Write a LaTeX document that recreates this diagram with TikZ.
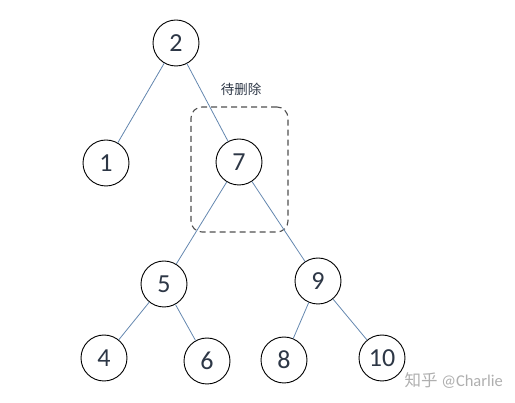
\documentclass[tikz,border=0pt]{standalone}
\usepackage{fontspec}
\setmainfont{Carlito}
\newfontfamily\cjk{Noto Sans CJK SC}
\definecolor{edgec}{RGB}{100,135,175}
\definecolor{textc}{RGB}{45,55,70}
\definecolor{boxc}{RGB}{80,80,80}
\definecolor{wmc}{RGB}{175,175,175}
\begin{document}
\begin{tikzpicture}[x=1pt,y=-1pt,
  tnode/.style={circle,draw=black,line width=0.9pt,minimum size=46pt,inner sep=0pt,font=\fontsize{26}{26}\selectfont,text=textc,fill=white},
  tedge/.style={draw=edgec,line width=0.8pt}]
\useasboundingbox (0,0) rectangle (515,403);
\node[draw=boxc,dash pattern=on 6pt off 4pt,line width=1.1pt,rounded corners=11pt,minimum width=97pt,minimum height=125pt] (box) at (239.5,169.5) {};
\node[tnode] (n2) at (176,43) {2};
\node[tnode] (n1) at (106,163) {1};
\node[tnode] (n7) at (239,162) {7};
\node[tnode] (n5) at (164,284) {5};
\node[tnode] (n9) at (318,281) {9};
\node[tnode] (n4) at (104,358) {4};
\node[tnode] (n6) at (207,361) {6};
\node[tnode] (n8) at (284,360) {8};
\node[tnode] (n10) at (382,358) {10};
\draw[tedge] (n2) -- (n1);
\draw[tedge] (n2) -- (n7);
\draw[tedge] (n7) -- (n5);
\draw[tedge] (n7) -- (n9);
\draw[tedge] (n5) -- (n4);
\draw[tedge] (n5) -- (n6);
\draw[tedge] (n9) -- (n8);
\draw[tedge] (n9) -- (n10);
\node[font=\cjk\fontsize{13.5}{13.5}\selectfont,text=textc] (lbl) at (241,89) {待删除};
\node[font=\fontsize{16.5}{16.5}\selectfont,text=wmc,anchor=west] (wm) at (401,380) {{\cjk 知乎} @Charlie};
\end{tikzpicture}
\end{document}
